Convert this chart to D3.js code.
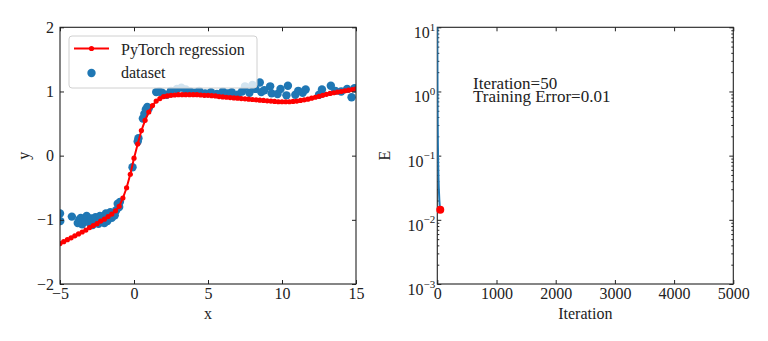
<!DOCTYPE html>
<html>
<head>
<meta charset="utf-8">
<script src="https://cdn.jsdelivr.net/npm/d3@7"></script>
<style>
  html, body { margin: 0; padding: 0; background: #fff; }
  svg { display: block; font-family: "Liberation Serif", "DejaVu Serif", serif; }
</style>
</head>
<body>
<svg id="chart" width="768" height="341"></svg>
<script>
// Regression prediction sampled on a regular grid
const predX = [-5, -4.75, -4.5, -4.25, -4, -3.75, -3.5, -3.25, -3, -2.75, -2.5, -2.25, -2, -1.75, -1.5, -1.25,
  -1, -0.75, -0.5, -0.25, 0, 0.25, 0.5, 0.75, 1, 1.25, 1.5, 1.75, 2, 2.25, 2.5, 2.75, 3, 3.25, 3.5, 3.75,
  4, 4.25, 4.5, 4.75, 5, 5.25, 5.5, 5.75, 6, 6.25, 6.5, 6.75, 7, 7.25, 7.5, 7.75, 8, 8.25, 8.5, 8.75,
  9, 9.25, 9.5, 9.75, 10, 10.25, 10.5, 10.75, 11, 11.25, 11.5, 11.75, 12, 12.25, 12.5, 12.75, 13, 13.25,
  13.5, 13.75, 14, 14.25, 14.5, 14.75, 15];
const predY = [-1.37, -1.34, -1.31, -1.28, -1.25, -1.22, -1.19, -1.16, -1.12, -1.09, -1.06, -1.02, -0.99, -0.95, -0.91, -0.86,
  -0.79, -0.66, -0.5, -0.29, -0.04, 0.18, 0.39, 0.55, 0.68, 0.78, 0.85, 0.89, 0.92, 0.93, 0.94, 0.945, 0.95, 0.95, 0.95, 0.95,
  0.95, 0.95, 0.945, 0.94, 0.94, 0.935, 0.93, 0.92, 0.915, 0.91, 0.905, 0.9, 0.895, 0.89, 0.885, 0.88, 0.875, 0.87, 0.865, 0.86,
  0.855, 0.85, 0.845, 0.84, 0.84, 0.84, 0.84, 0.845, 0.85, 0.86, 0.87, 0.88, 0.895, 0.91, 0.925, 0.94, 0.955, 0.97,
  0.98, 0.99, 1.0, 1.01, 1.02, 1.03, 1.04];

// Noisy observations
const dataX = [-5.0, -4.98, -4.2, -3.8, -3.7, -3.6, -3.5, -3.3, -3.2, -3.0, -2.9, -2.8, -2.6, -2.5, -2.4, -2.3, -2.1, -2.0,
  -1.9, -1.8, -1.6, -1.5, -1.3, -1.2, -1.1, -1.0, -0.95,
  -0.1, 0.25, 0.3, 0.6, 0.7, 0.8, 0.9, 1.0,
  1.5, 1.7, 1.9, 2.2, 2.5, 2.9, 3.2, 3.5, 3.8, 4.1, 4.4, 4.8, 5.2, 5.6, 6.0, 6.3, 6.6, 7.0, 7.3, 7.5, 7.8, 8.0,
  8.2, 8.5, 8.6, 8.8, 9.2, 9.3, 9.7, 9.9, 10.4, 10.3, 10.9, 11.1, 11.4, 11.6, 12.5, 12.7, 13.3, 13.6, 14.0, 14.4, 14.7, 14.9];
const dataY = [-0.9, -1.02, -0.95, -1.05, -1.0, -0.97, -1.07, -1.02, -0.94, -1.05, -0.98, -1.08, -0.96, -1.03, -1.06, -0.94, -0.98, -1.05,
  -0.9, -1.02, -0.88, -0.97, -0.93, -0.85, -0.75, -0.8, -0.72,
  -0.18, 0.22, 0.27, 0.58, 0.65, 0.72, 0.76, 0.74,
  0.99, 1.0, 0.98, 0.95, 1.01, 1.04, 1.06, 1.03, 1.0, 0.98, 1.01, 0.97, 0.99, 0.96, 1.0, 0.97, 0.99, 0.95, 1.0, 1.08, 0.98, 1.1,
  1.04, 1.14, 0.99, 1.02, 1.08, 0.97, 0.96, 1.04, 1.09, 0.94, 0.95, 1.01, 0.98, 1.03, 0.95, 1.03, 1.09, 1.01, 1.0, 1.04, 0.91, 1.05];

// Training error history
const iterations = [0, 5, 10, 15, 20, 25, 30, 35, 40, 45, 50];
const errors = [15, 0.6, 0.15, 0.07, 0.045, 0.032, 0.025, 0.02, 0.017, 0.0155, 0.0143];
const currentIter = 50;
const currentError = 0.0143;

// Tick labels
const xTicksLeft = [-5, 0, 5, 10, 15];
const yTicksLeft = [-2, -1, 0, 1, 2];
const xTicksRight = [0, 1000, 2000, 3000, 4000, 5000];
const yTicksRight = [1e-3, 1e-2, 1e-1, 1, 10];
const legendLabels = ["PyTorch regression", "dataset"];
const annotation = ["Iteration=50", "Training Error=0.01"];

const BLUE = "#1f77b4", RED = "#ff0000", INK = "#222";
const svg = d3.select("#chart");
const minus = s => String(s).replace("-", "\u2212");

function styleAxis(g) {
  g.select(".domain").remove();
  g.selectAll("line").attr("stroke", INK).attr("stroke-width", 1);
  g.selectAll("text").attr("fill", INK).attr("font-size", 16)
    .attr("font-family", "Liberation Serif, DejaVu Serif, serif");
}

// ---------- Left panel: regression fit ----------
const L = { x0: 60, x1: 356, y0: 27.3, y1: 284 };
const xL = d3.scaleLinear().domain([-5, 15]).range([L.x0, L.x1]);
const yL = d3.scaleLinear().domain([-2, 2]).range([L.y1, L.y0]);

svg.append("defs").append("clipPath").attr("id", "clipL")
  .append("rect").attr("x", L.x0).attr("y", L.y0).attr("width", L.x1 - L.x0).attr("height", L.y1 - L.y0);

const gL = svg.append("g");
gL.append("g").attr("clip-path", "url(#clipL)")
  .selectAll("circle").data(dataX.map((x, i) => [x, dataY[i]])).join("circle")
  .attr("cx", d => xL(d[0])).attr("cy", d => yL(d[1])).attr("r", 4.2).attr("fill", BLUE);

const predPts = predX.map((x, i) => [x, predY[i]]);
const gPred = gL.append("g").attr("clip-path", "url(#clipL)");
gPred.append("path").datum(predPts)
  .attr("d", d3.line().x(d => xL(d[0])).y(d => yL(d[1])))
  .attr("fill", "none").attr("stroke", RED).attr("stroke-width", 2);
gPred.selectAll("circle").data(predPts).join("circle")
  .attr("cx", d => xL(d[0])).attr("cy", d => yL(d[1])).attr("r", 2.6).attr("fill", RED);

gL.append("g").attr("transform", `translate(0,${L.y1})`)
  .call(d3.axisBottom(xL).tickValues(xTicksLeft).tickSizeInner(-4).tickSizeOuter(0).tickPadding(4).tickFormat(minus))
  .call(styleAxis);
gL.append("g").attr("transform", `translate(0,${L.y0})`)
  .call(d3.axisTop(xL).tickValues(xTicksLeft).tickSizeInner(-4).tickSizeOuter(0).tickFormat(""))
  .call(styleAxis);
gL.append("g").attr("transform", `translate(${L.x0},0)`)
  .call(d3.axisLeft(yL).tickValues(yTicksLeft).tickSizeInner(-4).tickSizeOuter(0).tickPadding(6).tickFormat(minus))
  .call(styleAxis);
gL.append("g").attr("transform", `translate(${L.x1},0)`)
  .call(d3.axisRight(yL).tickValues(yTicksLeft).tickSizeInner(-4).tickSizeOuter(0).tickFormat(""))
  .call(styleAxis);
gL.append("rect").attr("x", L.x0).attr("y", L.y0).attr("width", L.x1 - L.x0).attr("height", L.y1 - L.y0)
  .attr("fill", "none").attr("stroke", INK).attr("stroke-width", 1.1);

gL.append("text").attr("x", (L.x0 + L.x1) / 2).attr("y", 319).attr("text-anchor", "middle")
  .attr("font-size", 16).attr("fill", INK).text("x");
gL.append("text").attr("transform", `translate(29,${(L.y0 + L.y1) / 2}) rotate(-90)`).attr("text-anchor", "middle")
  .attr("font-size", 16).attr("fill", INK).text("y");

// Legend
const lg = gL.append("g");
lg.append("rect").attr("x", 69).attr("y", 36).attr("width", 188).attr("height", 52).attr("rx", 3)
  .attr("fill", "#fff").attr("fill-opacity", 0.8).attr("stroke", "#d0d0d0").attr("stroke-width", 1);
lg.append("line").attr("x1", 74).attr("x2", 109).attr("y1", 48.5).attr("y2", 48.5)
  .attr("stroke", RED).attr("stroke-width", 2);
lg.append("circle").attr("cx", 91.5).attr("cy", 48.5).attr("r", 2.6).attr("fill", RED);
lg.append("circle").attr("cx", 91.5).attr("cy", 73).attr("r", 4.2).attr("fill", BLUE);
lg.selectAll("text.lbl").data(legendLabels).join("text").attr("class", "lbl")
  .attr("x", 121).attr("y", (d, i) => i ? 78 : 54.5)
  .attr("font-size", 16).attr("fill", INK).text(d => d);

// ---------- Right panel: training error ----------
const R = { x0: 437.3, x1: 733.3, y0: 27.3, y1: 284 };
const xR = d3.scaleLinear().domain([0, 5000]).range([R.x0, R.x1]);
const yR = d3.scaleLog().domain([1e-3, 10]).range([R.y1, R.y0]);
const minorR = [];
[1e-3, 1e-2, 1e-1, 1].forEach(p => { for (let m = 2; m <= 9; m++) minorR.push(m * p); });

svg.select("defs").append("clipPath").attr("id", "clipR")
  .append("rect").attr("x", R.x0).attr("y", R.y0).attr("width", R.x1 - R.x0).attr("height", R.y1 - R.y0);

const gR = svg.append("g");

gR.append("g").attr("transform", `translate(0,${R.y1})`)
  .call(d3.axisBottom(xR).tickValues(xTicksRight).tickSizeInner(-4).tickSizeOuter(0).tickPadding(4).tickFormat(d3.format("d")))
  .call(styleAxis);
gR.append("g").attr("transform", `translate(0,${R.y0})`)
  .call(d3.axisTop(xR).tickValues(xTicksRight).tickSizeInner(-4).tickSizeOuter(0).tickFormat(""))
  .call(styleAxis);

const yAxL = gR.append("g").attr("transform", `translate(${R.x0},0)`)
  .call(d3.axisLeft(yR).tickValues(yTicksRight).tickSizeInner(-4).tickSizeOuter(0).tickPadding(2).tickFormat(""))
  .call(styleAxis);
// Power-of-ten labels with superscript exponents
yAxL.selectAll(".tick text").each(function(d) {
  const t = d3.select(this).attr("dy", null).attr("y", 10.5).attr("text-anchor", "end");
  t.text(null);
  t.append("tspan").text("10");
  t.append("tspan").attr("font-size", 11).attr("dy", -7.5).text(minus(Math.round(Math.log10(d))));
});
gR.append("g").attr("transform", `translate(${R.x0},0)`)
  .call(d3.axisLeft(yR).tickValues(minorR).tickSizeInner(-2).tickSizeOuter(0).tickFormat(""))
  .call(styleAxis);
gR.append("g").attr("transform", `translate(${R.x1},0)`)
  .call(d3.axisRight(yR).tickValues(yTicksRight).tickSizeInner(-4).tickSizeOuter(0).tickFormat(""))
  .call(styleAxis);
gR.append("g").attr("transform", `translate(${R.x1},0)`)
  .call(d3.axisRight(yR).tickValues(minorR).tickSizeInner(-2).tickSizeOuter(0).tickFormat(""))
  .call(styleAxis);
gR.append("rect").attr("x", R.x0).attr("y", R.y0).attr("width", R.x1 - R.x0).attr("height", R.y1 - R.y0)
  .attr("fill", "none").attr("stroke", INK).attr("stroke-width", 1.1);

// Error curve and current point drawn over the frame
gR.append("path").datum(iterations.map((it, i) => [it, errors[i]]))
  .attr("clip-path", "url(#clipR)")
  .attr("d", d3.line().x(d => xR(d[0])).y(d => yR(d[1])))
  .attr("fill", "none").attr("stroke", BLUE).attr("stroke-width", 2);
gR.append("circle").attr("cx", xR(currentIter)).attr("cy", yR(currentError)).attr("r", 4).attr("fill", RED);

gR.append("text").attr("x", (R.x0 + R.x1) / 2).attr("y", 319).attr("text-anchor", "middle")
  .attr("font-size", 16).attr("fill", INK).text("Iteration");
gR.append("text").attr("transform", `translate(390,${(R.y0 + R.y1) / 2}) rotate(-90)`).attr("text-anchor", "middle")
  .attr("font-size", 16).attr("fill", INK).text("E");

gR.selectAll("text.note").data(annotation).join("text").attr("class", "note")
  .attr("x", 473).attr("y", (d, i) => i ? 102 : 89)
  .attr("font-size", 17).attr("fill", INK).text(d => d);
</script>
</body>
</html>
